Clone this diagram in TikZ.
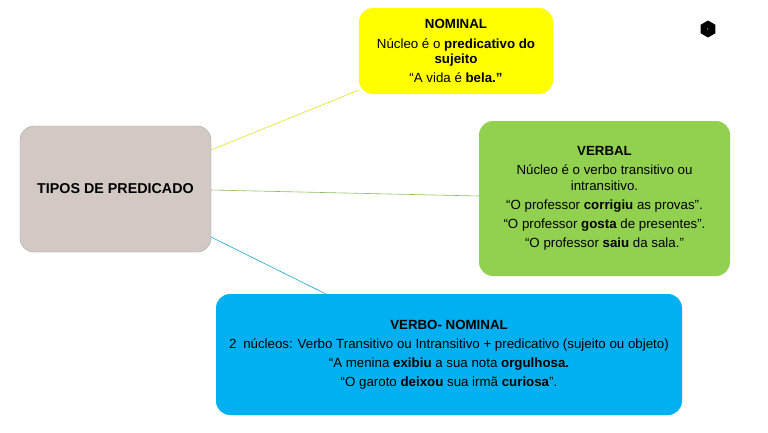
\documentclass[tikz,border=0pt]{standalone}
\usepackage{fontspec}
\setmainfont{Liberation Sans}
\usetikzlibrary{shapes.geometric}
\definecolor{ygold}{HTML}{FFFF00}
\definecolor{vgreen}{HTML}{92D050}
\definecolor{vblue}{HTML}{00B0F0}
\definecolor{tgray}{HTML}{D2C9C5}
\begin{document}
\begin{tikzpicture}[x=1pt,y=-1pt,
  box/.style={rounded corners=14pt,align=center,inner sep=0pt,font=\fontsize{13.3}{17}\selectfont},
  link/.style={line width=0.6pt}]
\useasboundingbox (0,0) rectangle (768,432);
\fill[white] (0,0) rectangle (768,432);
\node[box,fill=tgray,draw=gray!70,minimum width=191pt,minimum height=126pt,font=\fontsize{14.3}{16}\selectfont\bfseries] (t) at (115.5,189) {TIPOS DE PREDICADO};
\node[box,fill=ygold,minimum width=194pt,minimum height=86pt] (n) at (456,51)
 {\textbf{NOMINAL}\\[3pt]Núcleo é o \textbf{predicativo do}\\[-2pt]\textbf{sujeito}\\[2pt]“A vida é \textbf{bela.”}};
\node[box,fill=vgreen,minimum width=251pt,minimum height=155pt] (v) at (604.5,198.5)
 {\textbf{VERBAL}\\[2pt]Núcleo é o verbo transitivo ou\\[-1pt]intransitivo.\\[2pt]“O professor \textbf{corrigiu} as provas”.\\[2pt]“O professor \textbf{gosta} de presentes”.\\[2pt]“O professor \textbf{saiu} da sala.”};
\node[box,fill=vblue,minimum width=466pt,minimum height=121pt] (vn) at (449,354.5)
 {\textbf{VERBO- NOMINAL}\\[2pt]2\enspace núcleos: Verbo Transitivo ou Intransitivo + predicativo (sujeito ou objeto)\\[2pt]“A menina \textbf{exibiu} a sua nota \textbf{orgulhosa.}\\[2pt]“O garoto \textbf{deixou} sua irmã \textbf{curiosa}”.};
\node[regular polygon,regular polygon sides=6,shape border rotate=30,fill=black,minimum size=17pt,inner sep=0pt,text=white,font=\fontsize{3}{3}\selectfont] (h) at (708,29) {1};
\coordinate (a) at (211,190);
\coordinate (b) at (479,196);
\coordinate (c) at (211,237);
\coordinate (d) at (326,294);
\coordinate (e) at (211,150);
\coordinate (f) at (359,90);
\draw[link,draw=ygold!80!gray] (e) -- (f);
\draw[link,draw=vgreen!80!gray] (a) -- (b);
\draw[link,draw=vblue!80!gray] (c) -- (d);
\end{tikzpicture}
\end{document}
